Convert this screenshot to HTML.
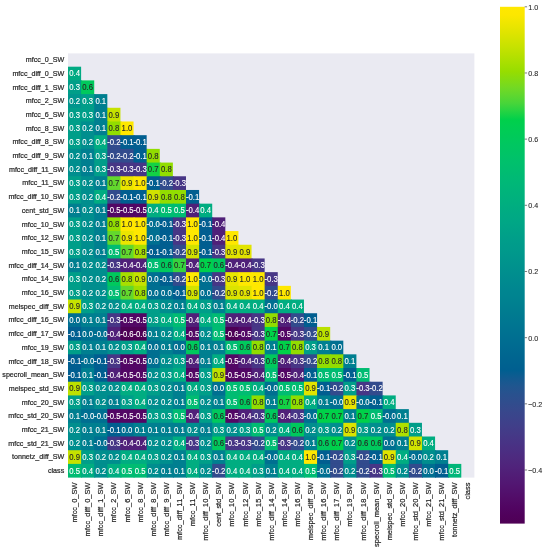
<!DOCTYPE html><html><head><meta charset="utf-8"><title>Correlation heatmap</title>
<style>html,body{margin:0;padding:0;background:#fff}svg{display:block}text{font-family:"Liberation Sans",sans-serif;font-size:7.15px}.a{text-anchor:middle;font-size:7.75px}.w{fill:#fff;stroke:#fff;stroke-width:.1px}.d{fill:#262626;stroke:#262626;stroke-width:.1px}.yl{text-anchor:end;fill:#262626;stroke:#262626;stroke-width:.2px}.xl{text-anchor:end;fill:#262626;stroke:#262626;stroke-width:.2px}.cl{fill:#262626;stroke:#262626;stroke-width:.08px}</style></head><body>
<svg width="545" height="550" viewBox="0 0 545 550">
<rect width="545" height="550" fill="#fff"/>
<rect x="68.00" y="53.40" width="406.40" height="424.20" fill="#eaeaf2"/>
<g shape-rendering="auto">
<rect x="68.00" y="66.70" width="13.11" height="14.70" fill="#00aa83"/>
<rect x="68.00" y="80.39" width="14.11" height="14.70" fill="#009e89"/>
<rect x="81.11" y="80.39" width="13.11" height="14.70" fill="#00c95d"/>
<rect x="68.00" y="94.09" width="14.11" height="14.70" fill="#00958d"/>
<rect x="81.11" y="94.09" width="14.11" height="14.70" fill="#009e89"/>
<rect x="94.22" y="94.09" width="13.11" height="14.70" fill="#007f90"/>
<rect x="68.00" y="107.79" width="14.11" height="14.70" fill="#009e89"/>
<rect x="81.11" y="107.79" width="14.11" height="14.70" fill="#009e89"/>
<rect x="94.22" y="107.79" width="14.11" height="14.70" fill="#007f90"/>
<rect x="107.33" y="107.79" width="13.11" height="14.70" fill="#c6e200"/>
<rect x="68.00" y="121.48" width="14.11" height="14.70" fill="#009e89"/>
<rect x="81.11" y="121.48" width="14.11" height="14.70" fill="#008e8e"/>
<rect x="94.22" y="121.48" width="14.11" height="14.70" fill="#007f90"/>
<rect x="107.33" y="121.48" width="14.11" height="14.70" fill="#92dd00"/>
<rect x="120.44" y="121.48" width="13.11" height="14.70" fill="#ffe800"/>
<rect x="68.00" y="135.18" width="14.11" height="14.70" fill="#009e89"/>
<rect x="81.11" y="135.18" width="14.11" height="14.70" fill="#008e8e"/>
<rect x="94.22" y="135.18" width="14.11" height="14.70" fill="#00ad81"/>
<rect x="107.33" y="135.18" width="14.11" height="14.70" fill="#324b8d"/>
<rect x="120.44" y="135.18" width="14.11" height="14.70" fill="#015e90"/>
<rect x="133.55" y="135.18" width="13.11" height="14.70" fill="#015e90"/>
<rect x="68.00" y="148.88" width="14.11" height="14.70" fill="#008e8e"/>
<rect x="81.11" y="148.88" width="14.11" height="14.70" fill="#007f90"/>
<rect x="94.22" y="148.88" width="14.11" height="14.70" fill="#009e89"/>
<rect x="107.33" y="148.88" width="14.11" height="14.70" fill="#324b8d"/>
<rect x="120.44" y="148.88" width="14.11" height="14.70" fill="#324b8d"/>
<rect x="133.55" y="148.88" width="14.11" height="14.70" fill="#015e90"/>
<rect x="146.66" y="148.88" width="13.11" height="14.70" fill="#92dd00"/>
<rect x="68.00" y="162.57" width="14.11" height="14.70" fill="#008e8e"/>
<rect x="81.11" y="162.57" width="14.11" height="14.70" fill="#007f90"/>
<rect x="94.22" y="162.57" width="14.11" height="14.70" fill="#009e89"/>
<rect x="107.33" y="162.57" width="14.11" height="14.70" fill="#473686"/>
<rect x="120.44" y="162.57" width="14.11" height="14.70" fill="#473686"/>
<rect x="133.55" y="162.57" width="14.11" height="14.70" fill="#473686"/>
<rect x="146.66" y="162.57" width="14.11" height="14.70" fill="#13d245"/>
<rect x="159.77" y="162.57" width="13.11" height="14.70" fill="#92dd00"/>
<rect x="68.00" y="176.27" width="14.11" height="14.70" fill="#009e89"/>
<rect x="81.11" y="176.27" width="14.11" height="14.70" fill="#008e8e"/>
<rect x="94.22" y="176.27" width="14.11" height="14.70" fill="#007f90"/>
<rect x="107.33" y="176.27" width="14.11" height="14.70" fill="#63d82d"/>
<rect x="120.44" y="176.27" width="14.11" height="14.70" fill="#ece500"/>
<rect x="133.55" y="176.27" width="14.11" height="14.70" fill="#ffe800"/>
<rect x="146.66" y="176.27" width="14.11" height="14.70" fill="#015e90"/>
<rect x="159.77" y="176.27" width="14.11" height="14.70" fill="#324b8d"/>
<rect x="172.88" y="176.27" width="13.11" height="14.70" fill="#473686"/>
<rect x="68.00" y="189.97" width="14.11" height="14.70" fill="#009e89"/>
<rect x="81.11" y="189.97" width="14.11" height="14.70" fill="#008e8e"/>
<rect x="94.22" y="189.97" width="14.11" height="14.70" fill="#00ad81"/>
<rect x="107.33" y="189.97" width="14.11" height="14.70" fill="#324b8d"/>
<rect x="120.44" y="189.97" width="14.11" height="14.70" fill="#015e90"/>
<rect x="133.55" y="189.97" width="14.11" height="14.70" fill="#015e90"/>
<rect x="146.66" y="189.97" width="14.11" height="14.70" fill="#d1e300"/>
<rect x="159.77" y="189.97" width="14.11" height="14.70" fill="#92dd00"/>
<rect x="172.88" y="189.97" width="14.11" height="14.70" fill="#92dd00"/>
<rect x="185.99" y="189.97" width="13.11" height="14.70" fill="#015e90"/>
<rect x="68.00" y="203.66" width="14.11" height="14.70" fill="#007f90"/>
<rect x="81.11" y="203.66" width="14.11" height="14.70" fill="#008e8e"/>
<rect x="94.22" y="203.66" width="14.11" height="14.70" fill="#007f90"/>
<rect x="107.33" y="203.66" width="14.11" height="14.70" fill="#520765"/>
<rect x="120.44" y="203.66" width="14.11" height="14.70" fill="#520765"/>
<rect x="133.55" y="203.66" width="14.11" height="14.70" fill="#520765"/>
<rect x="146.66" y="203.66" width="14.11" height="14.70" fill="#00ad81"/>
<rect x="159.77" y="203.66" width="14.11" height="14.70" fill="#00bc72"/>
<rect x="172.88" y="203.66" width="14.11" height="14.70" fill="#00bc72"/>
<rect x="185.99" y="203.66" width="14.11" height="14.70" fill="#502079"/>
<rect x="199.10" y="203.66" width="13.11" height="14.70" fill="#00ad81"/>
<rect x="68.00" y="217.36" width="14.11" height="14.70" fill="#009e89"/>
<rect x="81.11" y="217.36" width="14.11" height="14.70" fill="#008e8e"/>
<rect x="94.22" y="217.36" width="14.11" height="14.70" fill="#007f90"/>
<rect x="107.33" y="217.36" width="14.11" height="14.70" fill="#92dd00"/>
<rect x="120.44" y="217.36" width="14.11" height="14.70" fill="#ffe800"/>
<rect x="133.55" y="217.36" width="14.11" height="14.70" fill="#ffe800"/>
<rect x="146.66" y="217.36" width="14.11" height="14.70" fill="#006f91"/>
<rect x="159.77" y="217.36" width="14.11" height="14.70" fill="#015e90"/>
<rect x="172.88" y="217.36" width="14.11" height="14.70" fill="#473686"/>
<rect x="185.99" y="217.36" width="14.11" height="14.70" fill="#ffe800"/>
<rect x="199.10" y="217.36" width="14.11" height="14.70" fill="#015e90"/>
<rect x="212.21" y="217.36" width="13.11" height="14.70" fill="#502079"/>
<rect x="68.00" y="231.06" width="14.11" height="14.70" fill="#009e89"/>
<rect x="81.11" y="231.06" width="14.11" height="14.70" fill="#008e8e"/>
<rect x="94.22" y="231.06" width="14.11" height="14.70" fill="#007f90"/>
<rect x="107.33" y="231.06" width="14.11" height="14.70" fill="#63d82d"/>
<rect x="120.44" y="231.06" width="14.11" height="14.70" fill="#ece500"/>
<rect x="133.55" y="231.06" width="14.11" height="14.70" fill="#ffe800"/>
<rect x="146.66" y="231.06" width="14.11" height="14.70" fill="#006f91"/>
<rect x="159.77" y="231.06" width="14.11" height="14.70" fill="#015e90"/>
<rect x="172.88" y="231.06" width="14.11" height="14.70" fill="#473686"/>
<rect x="185.99" y="231.06" width="14.11" height="14.70" fill="#ffe800"/>
<rect x="199.10" y="231.06" width="14.11" height="14.70" fill="#015e90"/>
<rect x="212.21" y="231.06" width="14.11" height="14.70" fill="#502079"/>
<rect x="225.32" y="231.06" width="13.11" height="14.70" fill="#ffe800"/>
<rect x="68.00" y="244.75" width="14.11" height="14.70" fill="#009e89"/>
<rect x="81.11" y="244.75" width="14.11" height="14.70" fill="#008e8e"/>
<rect x="94.22" y="244.75" width="14.11" height="14.70" fill="#007f90"/>
<rect x="107.33" y="244.75" width="14.11" height="14.70" fill="#00bc72"/>
<rect x="120.44" y="244.75" width="14.11" height="14.70" fill="#63d82d"/>
<rect x="133.55" y="244.75" width="14.11" height="14.70" fill="#a7df00"/>
<rect x="146.66" y="244.75" width="14.11" height="14.70" fill="#015e90"/>
<rect x="159.77" y="244.75" width="14.11" height="14.70" fill="#015e90"/>
<rect x="172.88" y="244.75" width="14.11" height="14.70" fill="#324b8d"/>
<rect x="185.99" y="244.75" width="14.11" height="14.70" fill="#d1e300"/>
<rect x="199.10" y="244.75" width="14.11" height="14.70" fill="#015e90"/>
<rect x="212.21" y="244.75" width="14.11" height="14.70" fill="#473686"/>
<rect x="225.32" y="244.75" width="14.11" height="14.70" fill="#e2e400"/>
<rect x="238.43" y="244.75" width="13.11" height="14.70" fill="#e2e400"/>
<rect x="68.00" y="258.45" width="14.11" height="14.70" fill="#007f90"/>
<rect x="81.11" y="258.45" width="14.11" height="14.70" fill="#008e8e"/>
<rect x="94.22" y="258.45" width="14.11" height="14.70" fill="#008e8e"/>
<rect x="107.33" y="258.45" width="14.11" height="14.70" fill="#473686"/>
<rect x="120.44" y="258.45" width="14.11" height="14.70" fill="#502079"/>
<rect x="133.55" y="258.45" width="14.11" height="14.70" fill="#502079"/>
<rect x="146.66" y="258.45" width="14.11" height="14.70" fill="#00bc72"/>
<rect x="159.77" y="258.45" width="14.11" height="14.70" fill="#00c95d"/>
<rect x="172.88" y="258.45" width="14.11" height="14.70" fill="#37d43f"/>
<rect x="185.99" y="258.45" width="14.11" height="14.70" fill="#502079"/>
<rect x="199.10" y="258.45" width="14.11" height="14.70" fill="#00d04b"/>
<rect x="212.21" y="258.45" width="14.11" height="14.70" fill="#00c95d"/>
<rect x="225.32" y="258.45" width="14.11" height="14.70" fill="#502079"/>
<rect x="238.43" y="258.45" width="14.11" height="14.70" fill="#502079"/>
<rect x="251.54" y="258.45" width="13.11" height="14.70" fill="#473686"/>
<rect x="68.00" y="272.15" width="14.11" height="14.70" fill="#009e89"/>
<rect x="81.11" y="272.15" width="14.11" height="14.70" fill="#008e8e"/>
<rect x="94.22" y="272.15" width="14.11" height="14.70" fill="#008e8e"/>
<rect x="107.33" y="272.15" width="14.11" height="14.70" fill="#00c95d"/>
<rect x="120.44" y="272.15" width="14.11" height="14.70" fill="#a7df00"/>
<rect x="133.55" y="272.15" width="14.11" height="14.70" fill="#c6e200"/>
<rect x="146.66" y="272.15" width="14.11" height="14.70" fill="#006f91"/>
<rect x="159.77" y="272.15" width="14.11" height="14.70" fill="#015e90"/>
<rect x="172.88" y="272.15" width="14.11" height="14.70" fill="#324b8d"/>
<rect x="185.99" y="272.15" width="14.11" height="14.70" fill="#ffe800"/>
<rect x="199.10" y="272.15" width="14.11" height="14.70" fill="#006f91"/>
<rect x="212.21" y="272.15" width="14.11" height="14.70" fill="#473686"/>
<rect x="225.32" y="272.15" width="14.11" height="14.70" fill="#e9e500"/>
<rect x="238.43" y="272.15" width="14.11" height="14.70" fill="#ffe800"/>
<rect x="251.54" y="272.15" width="14.11" height="14.70" fill="#ffe800"/>
<rect x="264.65" y="272.15" width="13.11" height="14.70" fill="#473686"/>
<rect x="68.00" y="285.85" width="14.11" height="14.70" fill="#009e89"/>
<rect x="81.11" y="285.85" width="14.11" height="14.70" fill="#008e8e"/>
<rect x="94.22" y="285.85" width="14.11" height="14.70" fill="#008e8e"/>
<rect x="107.33" y="285.85" width="14.11" height="14.70" fill="#00bc72"/>
<rect x="120.44" y="285.85" width="14.11" height="14.70" fill="#63d82d"/>
<rect x="133.55" y="285.85" width="14.11" height="14.70" fill="#9fde00"/>
<rect x="146.66" y="285.85" width="14.11" height="14.70" fill="#006f91"/>
<rect x="159.77" y="285.85" width="14.11" height="14.70" fill="#006f91"/>
<rect x="172.88" y="285.85" width="14.11" height="14.70" fill="#015e90"/>
<rect x="185.99" y="285.85" width="14.11" height="14.70" fill="#d1e300"/>
<rect x="199.10" y="285.85" width="14.11" height="14.70" fill="#006f91"/>
<rect x="212.21" y="285.85" width="14.11" height="14.70" fill="#324b8d"/>
<rect x="225.32" y="285.85" width="14.11" height="14.70" fill="#dbe400"/>
<rect x="238.43" y="285.85" width="14.11" height="14.70" fill="#e2e400"/>
<rect x="251.54" y="285.85" width="14.11" height="14.70" fill="#ffe800"/>
<rect x="264.65" y="285.85" width="14.11" height="14.70" fill="#324b8d"/>
<rect x="277.75" y="285.85" width="13.11" height="14.70" fill="#ffe800"/>
<rect x="68.00" y="299.54" width="14.11" height="14.70" fill="#c6e200"/>
<rect x="81.11" y="299.54" width="14.11" height="14.70" fill="#009e89"/>
<rect x="94.22" y="299.54" width="14.11" height="14.70" fill="#008e8e"/>
<rect x="107.33" y="299.54" width="14.11" height="14.70" fill="#008e8e"/>
<rect x="120.44" y="299.54" width="14.11" height="14.70" fill="#00ad81"/>
<rect x="133.55" y="299.54" width="14.11" height="14.70" fill="#00ad81"/>
<rect x="146.66" y="299.54" width="14.11" height="14.70" fill="#009e89"/>
<rect x="159.77" y="299.54" width="14.11" height="14.70" fill="#008e8e"/>
<rect x="172.88" y="299.54" width="14.11" height="14.70" fill="#007f90"/>
<rect x="185.99" y="299.54" width="14.11" height="14.70" fill="#00ad81"/>
<rect x="199.10" y="299.54" width="14.11" height="14.70" fill="#009e89"/>
<rect x="212.21" y="299.54" width="14.11" height="14.70" fill="#007f90"/>
<rect x="225.32" y="299.54" width="14.11" height="14.70" fill="#00ad81"/>
<rect x="238.43" y="299.54" width="14.11" height="14.70" fill="#00ad81"/>
<rect x="251.54" y="299.54" width="14.11" height="14.70" fill="#00ad81"/>
<rect x="264.65" y="299.54" width="14.11" height="14.70" fill="#006f91"/>
<rect x="277.75" y="299.54" width="14.11" height="14.70" fill="#00ad81"/>
<rect x="290.86" y="299.54" width="13.11" height="14.70" fill="#00ad81"/>
<rect x="68.00" y="313.24" width="14.11" height="14.70" fill="#006f91"/>
<rect x="81.11" y="313.24" width="14.11" height="14.70" fill="#007f90"/>
<rect x="94.22" y="313.24" width="14.11" height="14.70" fill="#007f90"/>
<rect x="107.33" y="313.24" width="14.11" height="14.70" fill="#473686"/>
<rect x="120.44" y="313.24" width="14.11" height="14.70" fill="#520765"/>
<rect x="133.55" y="313.24" width="14.11" height="14.70" fill="#520765"/>
<rect x="146.66" y="313.24" width="14.11" height="14.70" fill="#009e89"/>
<rect x="159.77" y="313.24" width="14.11" height="14.70" fill="#00ad81"/>
<rect x="172.88" y="313.24" width="14.11" height="14.70" fill="#00bc72"/>
<rect x="185.99" y="313.24" width="14.11" height="14.70" fill="#502079"/>
<rect x="199.10" y="313.24" width="14.11" height="14.70" fill="#00ad81"/>
<rect x="212.21" y="313.24" width="14.11" height="14.70" fill="#00bc72"/>
<rect x="225.32" y="313.24" width="14.11" height="14.70" fill="#502079"/>
<rect x="238.43" y="313.24" width="14.11" height="14.70" fill="#502079"/>
<rect x="251.54" y="313.24" width="14.11" height="14.70" fill="#473686"/>
<rect x="264.65" y="313.24" width="14.11" height="14.70" fill="#92dd00"/>
<rect x="277.75" y="313.24" width="14.11" height="14.70" fill="#502079"/>
<rect x="290.86" y="313.24" width="14.11" height="14.70" fill="#324b8d"/>
<rect x="303.97" y="313.24" width="13.11" height="14.70" fill="#015e90"/>
<rect x="68.00" y="326.94" width="14.11" height="14.70" fill="#015e90"/>
<rect x="81.11" y="326.94" width="14.11" height="14.70" fill="#006f91"/>
<rect x="94.22" y="326.94" width="14.11" height="14.70" fill="#006f91"/>
<rect x="107.33" y="326.94" width="14.11" height="14.70" fill="#502079"/>
<rect x="120.44" y="326.94" width="14.11" height="14.70" fill="#4e0055"/>
<rect x="133.55" y="326.94" width="14.11" height="14.70" fill="#4e0055"/>
<rect x="146.66" y="326.94" width="14.11" height="14.70" fill="#007f90"/>
<rect x="159.77" y="326.94" width="14.11" height="14.70" fill="#008e8e"/>
<rect x="172.88" y="326.94" width="14.11" height="14.70" fill="#00ad81"/>
<rect x="185.99" y="326.94" width="14.11" height="14.70" fill="#520765"/>
<rect x="199.10" y="326.94" width="14.11" height="14.70" fill="#008e8e"/>
<rect x="212.21" y="326.94" width="14.11" height="14.70" fill="#00bc72"/>
<rect x="225.32" y="326.94" width="14.11" height="14.70" fill="#4e0055"/>
<rect x="238.43" y="326.94" width="14.11" height="14.70" fill="#520765"/>
<rect x="251.54" y="326.94" width="14.11" height="14.70" fill="#473686"/>
<rect x="264.65" y="326.94" width="14.11" height="14.70" fill="#00d149"/>
<rect x="277.75" y="326.94" width="14.11" height="14.70" fill="#520765"/>
<rect x="290.86" y="326.94" width="14.11" height="14.70" fill="#473686"/>
<rect x="303.97" y="326.94" width="14.11" height="14.70" fill="#324b8d"/>
<rect x="317.08" y="326.94" width="13.11" height="14.70" fill="#bbe100"/>
<rect x="68.00" y="340.63" width="14.11" height="14.70" fill="#009e89"/>
<rect x="81.11" y="340.63" width="14.11" height="14.70" fill="#007f90"/>
<rect x="94.22" y="340.63" width="14.11" height="14.70" fill="#007f90"/>
<rect x="107.33" y="340.63" width="14.11" height="14.70" fill="#008e8e"/>
<rect x="120.44" y="340.63" width="14.11" height="14.70" fill="#009e89"/>
<rect x="133.55" y="340.63" width="14.11" height="14.70" fill="#00ad81"/>
<rect x="146.66" y="340.63" width="14.11" height="14.70" fill="#006f91"/>
<rect x="159.77" y="340.63" width="14.11" height="14.70" fill="#007f90"/>
<rect x="172.88" y="340.63" width="14.11" height="14.70" fill="#006f91"/>
<rect x="185.99" y="340.63" width="14.11" height="14.70" fill="#00c95d"/>
<rect x="199.10" y="340.63" width="14.11" height="14.70" fill="#007f90"/>
<rect x="212.21" y="340.63" width="14.11" height="14.70" fill="#007f90"/>
<rect x="225.32" y="340.63" width="14.11" height="14.70" fill="#00bc72"/>
<rect x="238.43" y="340.63" width="14.11" height="14.70" fill="#00c95d"/>
<rect x="251.54" y="340.63" width="14.11" height="14.70" fill="#92dd00"/>
<rect x="264.65" y="340.63" width="14.11" height="14.70" fill="#007f90"/>
<rect x="277.75" y="340.63" width="14.11" height="14.70" fill="#00d149"/>
<rect x="290.86" y="340.63" width="14.11" height="14.70" fill="#92dd00"/>
<rect x="303.97" y="340.63" width="14.11" height="14.70" fill="#009e89"/>
<rect x="317.08" y="340.63" width="14.11" height="14.70" fill="#007f90"/>
<rect x="330.19" y="340.63" width="13.11" height="14.70" fill="#006f91"/>
<rect x="68.00" y="354.33" width="14.11" height="14.70" fill="#015e90"/>
<rect x="81.11" y="354.33" width="14.11" height="14.70" fill="#006f91"/>
<rect x="94.22" y="354.33" width="14.11" height="14.70" fill="#015e90"/>
<rect x="107.33" y="354.33" width="14.11" height="14.70" fill="#473686"/>
<rect x="120.44" y="354.33" width="14.11" height="14.70" fill="#520765"/>
<rect x="133.55" y="354.33" width="14.11" height="14.70" fill="#520765"/>
<rect x="146.66" y="354.33" width="14.11" height="14.70" fill="#006f91"/>
<rect x="159.77" y="354.33" width="14.11" height="14.70" fill="#008e8e"/>
<rect x="172.88" y="354.33" width="14.11" height="14.70" fill="#009e89"/>
<rect x="185.99" y="354.33" width="14.11" height="14.70" fill="#502079"/>
<rect x="199.10" y="354.33" width="14.11" height="14.70" fill="#007f90"/>
<rect x="212.21" y="354.33" width="14.11" height="14.70" fill="#00ad81"/>
<rect x="225.32" y="354.33" width="14.11" height="14.70" fill="#520765"/>
<rect x="238.43" y="354.33" width="14.11" height="14.70" fill="#502079"/>
<rect x="251.54" y="354.33" width="14.11" height="14.70" fill="#473686"/>
<rect x="264.65" y="354.33" width="14.11" height="14.70" fill="#00c95d"/>
<rect x="277.75" y="354.33" width="14.11" height="14.70" fill="#502079"/>
<rect x="290.86" y="354.33" width="14.11" height="14.70" fill="#473686"/>
<rect x="303.97" y="354.33" width="14.11" height="14.70" fill="#324b8d"/>
<rect x="317.08" y="354.33" width="14.11" height="14.70" fill="#92dd00"/>
<rect x="330.19" y="354.33" width="14.11" height="14.70" fill="#92dd00"/>
<rect x="343.30" y="354.33" width="13.11" height="14.70" fill="#007f90"/>
<rect x="68.00" y="368.03" width="14.11" height="14.70" fill="#015e90"/>
<rect x="81.11" y="368.03" width="14.11" height="14.70" fill="#007f90"/>
<rect x="94.22" y="368.03" width="14.11" height="14.70" fill="#015e90"/>
<rect x="107.33" y="368.03" width="14.11" height="14.70" fill="#502079"/>
<rect x="120.44" y="368.03" width="14.11" height="14.70" fill="#520765"/>
<rect x="133.55" y="368.03" width="14.11" height="14.70" fill="#520765"/>
<rect x="146.66" y="368.03" width="14.11" height="14.70" fill="#008e8e"/>
<rect x="159.77" y="368.03" width="14.11" height="14.70" fill="#009e89"/>
<rect x="172.88" y="368.03" width="14.11" height="14.70" fill="#00ad81"/>
<rect x="185.99" y="368.03" width="14.11" height="14.70" fill="#520765"/>
<rect x="199.10" y="368.03" width="14.11" height="14.70" fill="#009e89"/>
<rect x="212.21" y="368.03" width="14.11" height="14.70" fill="#bee100"/>
<rect x="225.32" y="368.03" width="14.11" height="14.70" fill="#520765"/>
<rect x="238.43" y="368.03" width="14.11" height="14.70" fill="#520765"/>
<rect x="251.54" y="368.03" width="14.11" height="14.70" fill="#502079"/>
<rect x="264.65" y="368.03" width="14.11" height="14.70" fill="#00bc72"/>
<rect x="277.75" y="368.03" width="14.11" height="14.70" fill="#520765"/>
<rect x="290.86" y="368.03" width="14.11" height="14.70" fill="#502079"/>
<rect x="303.97" y="368.03" width="14.11" height="14.70" fill="#015e90"/>
<rect x="317.08" y="368.03" width="14.11" height="14.70" fill="#00bc72"/>
<rect x="330.19" y="368.03" width="14.11" height="14.70" fill="#00bc72"/>
<rect x="343.30" y="368.03" width="14.11" height="14.70" fill="#015e90"/>
<rect x="356.41" y="368.03" width="13.11" height="14.70" fill="#00bc72"/>
<rect x="68.00" y="381.72" width="14.11" height="14.70" fill="#bee100"/>
<rect x="81.11" y="381.72" width="14.11" height="14.70" fill="#009e89"/>
<rect x="94.22" y="381.72" width="14.11" height="14.70" fill="#008e8e"/>
<rect x="107.33" y="381.72" width="14.11" height="14.70" fill="#008e8e"/>
<rect x="120.44" y="381.72" width="14.11" height="14.70" fill="#00ad81"/>
<rect x="133.55" y="381.72" width="14.11" height="14.70" fill="#00ad81"/>
<rect x="146.66" y="381.72" width="14.11" height="14.70" fill="#009e89"/>
<rect x="159.77" y="381.72" width="14.11" height="14.70" fill="#008e8e"/>
<rect x="172.88" y="381.72" width="14.11" height="14.70" fill="#007f90"/>
<rect x="185.99" y="381.72" width="14.11" height="14.70" fill="#00ad81"/>
<rect x="199.10" y="381.72" width="14.11" height="14.70" fill="#009e89"/>
<rect x="212.21" y="381.72" width="14.11" height="14.70" fill="#006f91"/>
<rect x="225.32" y="381.72" width="14.11" height="14.70" fill="#00bc72"/>
<rect x="238.43" y="381.72" width="14.11" height="14.70" fill="#00bc72"/>
<rect x="251.54" y="381.72" width="14.11" height="14.70" fill="#00ad81"/>
<rect x="264.65" y="381.72" width="14.11" height="14.70" fill="#006f91"/>
<rect x="277.75" y="381.72" width="14.11" height="14.70" fill="#00bc72"/>
<rect x="290.86" y="381.72" width="14.11" height="14.70" fill="#00bc72"/>
<rect x="303.97" y="381.72" width="14.11" height="14.70" fill="#e2e400"/>
<rect x="317.08" y="381.72" width="14.11" height="14.70" fill="#015e90"/>
<rect x="330.19" y="381.72" width="14.11" height="14.70" fill="#324b8d"/>
<rect x="343.30" y="381.72" width="14.11" height="14.70" fill="#009e89"/>
<rect x="356.41" y="381.72" width="14.11" height="14.70" fill="#473686"/>
<rect x="369.52" y="381.72" width="13.11" height="14.70" fill="#324b8d"/>
<rect x="68.00" y="395.42" width="14.11" height="14.70" fill="#009e89"/>
<rect x="81.11" y="395.42" width="14.11" height="14.70" fill="#007f90"/>
<rect x="94.22" y="395.42" width="14.11" height="14.70" fill="#008e8e"/>
<rect x="107.33" y="395.42" width="14.11" height="14.70" fill="#007f90"/>
<rect x="120.44" y="395.42" width="14.11" height="14.70" fill="#009e89"/>
<rect x="133.55" y="395.42" width="14.11" height="14.70" fill="#00ad81"/>
<rect x="146.66" y="395.42" width="14.11" height="14.70" fill="#008e8e"/>
<rect x="159.77" y="395.42" width="14.11" height="14.70" fill="#008e8e"/>
<rect x="172.88" y="395.42" width="14.11" height="14.70" fill="#007f90"/>
<rect x="185.99" y="395.42" width="14.11" height="14.70" fill="#00bc72"/>
<rect x="199.10" y="395.42" width="14.11" height="14.70" fill="#008e8e"/>
<rect x="212.21" y="395.42" width="14.11" height="14.70" fill="#007f90"/>
<rect x="225.32" y="395.42" width="14.11" height="14.70" fill="#00bc72"/>
<rect x="238.43" y="395.42" width="14.11" height="14.70" fill="#00c95d"/>
<rect x="251.54" y="395.42" width="14.11" height="14.70" fill="#92dd00"/>
<rect x="264.65" y="395.42" width="14.11" height="14.70" fill="#007f90"/>
<rect x="277.75" y="395.42" width="14.11" height="14.70" fill="#13d245"/>
<rect x="290.86" y="395.42" width="14.11" height="14.70" fill="#92dd00"/>
<rect x="303.97" y="395.42" width="14.11" height="14.70" fill="#00ad81"/>
<rect x="317.08" y="395.42" width="14.11" height="14.70" fill="#007f90"/>
<rect x="330.19" y="395.42" width="14.11" height="14.70" fill="#006f91"/>
<rect x="343.30" y="395.42" width="14.11" height="14.70" fill="#e9e500"/>
<rect x="356.41" y="395.42" width="14.11" height="14.70" fill="#006f91"/>
<rect x="369.52" y="395.42" width="14.11" height="14.70" fill="#015e90"/>
<rect x="382.63" y="395.42" width="13.11" height="14.70" fill="#00ad81"/>
<rect x="68.00" y="409.12" width="14.11" height="14.70" fill="#007f90"/>
<rect x="81.11" y="409.12" width="14.11" height="14.70" fill="#006f91"/>
<rect x="94.22" y="409.12" width="14.11" height="14.70" fill="#006f91"/>
<rect x="107.33" y="409.12" width="14.11" height="14.70" fill="#520765"/>
<rect x="120.44" y="409.12" width="14.11" height="14.70" fill="#520765"/>
<rect x="133.55" y="409.12" width="14.11" height="14.70" fill="#520765"/>
<rect x="146.66" y="409.12" width="14.11" height="14.70" fill="#009e89"/>
<rect x="159.77" y="409.12" width="14.11" height="14.70" fill="#009e89"/>
<rect x="172.88" y="409.12" width="14.11" height="14.70" fill="#00bc72"/>
<rect x="185.99" y="409.12" width="14.11" height="14.70" fill="#502079"/>
<rect x="199.10" y="409.12" width="14.11" height="14.70" fill="#009e89"/>
<rect x="212.21" y="409.12" width="14.11" height="14.70" fill="#00c95d"/>
<rect x="225.32" y="409.12" width="14.11" height="14.70" fill="#520765"/>
<rect x="238.43" y="409.12" width="14.11" height="14.70" fill="#502079"/>
<rect x="251.54" y="409.12" width="14.11" height="14.70" fill="#473686"/>
<rect x="264.65" y="409.12" width="14.11" height="14.70" fill="#00c95d"/>
<rect x="277.75" y="409.12" width="14.11" height="14.70" fill="#502079"/>
<rect x="290.86" y="409.12" width="14.11" height="14.70" fill="#473686"/>
<rect x="303.97" y="409.12" width="14.11" height="14.70" fill="#006f91"/>
<rect x="317.08" y="409.12" width="14.11" height="14.70" fill="#00d149"/>
<rect x="330.19" y="409.12" width="14.11" height="14.70" fill="#00d149"/>
<rect x="343.30" y="409.12" width="14.11" height="14.70" fill="#007f90"/>
<rect x="356.41" y="409.12" width="14.11" height="14.70" fill="#00d149"/>
<rect x="369.52" y="409.12" width="14.11" height="14.70" fill="#00bc72"/>
<rect x="382.63" y="409.12" width="14.11" height="14.70" fill="#006f91"/>
<rect x="395.74" y="409.12" width="13.11" height="14.70" fill="#007f90"/>
<rect x="68.00" y="422.81" width="14.11" height="14.70" fill="#008e8e"/>
<rect x="81.11" y="422.81" width="14.11" height="14.70" fill="#007f90"/>
<rect x="94.22" y="422.81" width="14.11" height="14.70" fill="#007f90"/>
<rect x="107.33" y="422.81" width="14.11" height="14.70" fill="#015e90"/>
<rect x="120.44" y="422.81" width="14.11" height="14.70" fill="#006f91"/>
<rect x="133.55" y="422.81" width="14.11" height="14.70" fill="#007f90"/>
<rect x="146.66" y="422.81" width="14.11" height="14.70" fill="#007f90"/>
<rect x="159.77" y="422.81" width="14.11" height="14.70" fill="#007f90"/>
<rect x="172.88" y="422.81" width="14.11" height="14.70" fill="#007f90"/>
<rect x="185.99" y="422.81" width="14.11" height="14.70" fill="#008e8e"/>
<rect x="199.10" y="422.81" width="14.11" height="14.70" fill="#007f90"/>
<rect x="212.21" y="422.81" width="14.11" height="14.70" fill="#009e89"/>
<rect x="225.32" y="422.81" width="14.11" height="14.70" fill="#008e8e"/>
<rect x="238.43" y="422.81" width="14.11" height="14.70" fill="#009e89"/>
<rect x="251.54" y="422.81" width="14.11" height="14.70" fill="#00bc72"/>
<rect x="264.65" y="422.81" width="14.11" height="14.70" fill="#008e8e"/>
<rect x="277.75" y="422.81" width="14.11" height="14.70" fill="#00ad81"/>
<rect x="290.86" y="422.81" width="14.11" height="14.70" fill="#00c95d"/>
<rect x="303.97" y="422.81" width="14.11" height="14.70" fill="#008e8e"/>
<rect x="317.08" y="422.81" width="14.11" height="14.70" fill="#009e89"/>
<rect x="330.19" y="422.81" width="14.11" height="14.70" fill="#008e8e"/>
<rect x="343.30" y="422.81" width="14.11" height="14.70" fill="#dbe400"/>
<rect x="356.41" y="422.81" width="14.11" height="14.70" fill="#009e89"/>
<rect x="369.52" y="422.81" width="14.11" height="14.70" fill="#008e8e"/>
<rect x="382.63" y="422.81" width="14.11" height="14.70" fill="#008e8e"/>
<rect x="395.74" y="422.81" width="14.11" height="14.70" fill="#afe000"/>
<rect x="408.85" y="422.81" width="13.11" height="14.70" fill="#009e89"/>
<rect x="68.00" y="436.51" width="14.11" height="14.70" fill="#008e8e"/>
<rect x="81.11" y="436.51" width="14.11" height="14.70" fill="#007f90"/>
<rect x="94.22" y="436.51" width="14.11" height="14.70" fill="#006f91"/>
<rect x="107.33" y="436.51" width="14.11" height="14.70" fill="#473686"/>
<rect x="120.44" y="436.51" width="14.11" height="14.70" fill="#502079"/>
<rect x="133.55" y="436.51" width="14.11" height="14.70" fill="#502079"/>
<rect x="146.66" y="436.51" width="14.11" height="14.70" fill="#008e8e"/>
<rect x="159.77" y="436.51" width="14.11" height="14.70" fill="#008e8e"/>
<rect x="172.88" y="436.51" width="14.11" height="14.70" fill="#00ad81"/>
<rect x="185.99" y="436.51" width="14.11" height="14.70" fill="#473686"/>
<rect x="199.10" y="436.51" width="14.11" height="14.70" fill="#008e8e"/>
<rect x="212.21" y="436.51" width="14.11" height="14.70" fill="#00c95d"/>
<rect x="225.32" y="436.51" width="14.11" height="14.70" fill="#473686"/>
<rect x="238.43" y="436.51" width="14.11" height="14.70" fill="#473686"/>
<rect x="251.54" y="436.51" width="14.11" height="14.70" fill="#324b8d"/>
<rect x="264.65" y="436.51" width="14.11" height="14.70" fill="#00bc72"/>
<rect x="277.75" y="436.51" width="14.11" height="14.70" fill="#473686"/>
<rect x="290.86" y="436.51" width="14.11" height="14.70" fill="#324b8d"/>
<rect x="303.97" y="436.51" width="14.11" height="14.70" fill="#007f90"/>
<rect x="317.08" y="436.51" width="14.11" height="14.70" fill="#00c95d"/>
<rect x="330.19" y="436.51" width="14.11" height="14.70" fill="#00d04b"/>
<rect x="343.30" y="436.51" width="14.11" height="14.70" fill="#008e8e"/>
<rect x="356.41" y="436.51" width="14.11" height="14.70" fill="#00c95d"/>
<rect x="369.52" y="436.51" width="14.11" height="14.70" fill="#00c95d"/>
<rect x="382.63" y="436.51" width="14.11" height="14.70" fill="#006f91"/>
<rect x="395.74" y="436.51" width="14.11" height="14.70" fill="#007f90"/>
<rect x="408.85" y="436.51" width="14.11" height="14.70" fill="#d1e300"/>
<rect x="421.96" y="436.51" width="13.11" height="14.70" fill="#00ad81"/>
<rect x="68.00" y="450.21" width="14.11" height="14.70" fill="#c6e200"/>
<rect x="81.11" y="450.21" width="14.11" height="14.70" fill="#009e89"/>
<rect x="94.22" y="450.21" width="14.11" height="14.70" fill="#008e8e"/>
<rect x="107.33" y="450.21" width="14.11" height="14.70" fill="#008e8e"/>
<rect x="120.44" y="450.21" width="14.11" height="14.70" fill="#00ad81"/>
<rect x="133.55" y="450.21" width="14.11" height="14.70" fill="#00ad81"/>
<rect x="146.66" y="450.21" width="14.11" height="14.70" fill="#009e89"/>
<rect x="159.77" y="450.21" width="14.11" height="14.70" fill="#008e8e"/>
<rect x="172.88" y="450.21" width="14.11" height="14.70" fill="#007f90"/>
<rect x="185.99" y="450.21" width="14.11" height="14.70" fill="#00ad81"/>
<rect x="199.10" y="450.21" width="14.11" height="14.70" fill="#009e89"/>
<rect x="212.21" y="450.21" width="14.11" height="14.70" fill="#007f90"/>
<rect x="225.32" y="450.21" width="14.11" height="14.70" fill="#00ad81"/>
<rect x="238.43" y="450.21" width="14.11" height="14.70" fill="#00ad81"/>
<rect x="251.54" y="450.21" width="14.11" height="14.70" fill="#00ad81"/>
<rect x="264.65" y="450.21" width="14.11" height="14.70" fill="#006f91"/>
<rect x="277.75" y="450.21" width="14.11" height="14.70" fill="#00ad81"/>
<rect x="290.86" y="450.21" width="14.11" height="14.70" fill="#00ad81"/>
<rect x="303.97" y="450.21" width="14.11" height="14.70" fill="#ffe800"/>
<rect x="317.08" y="450.21" width="14.11" height="14.70" fill="#015e90"/>
<rect x="330.19" y="450.21" width="14.11" height="14.70" fill="#324b8d"/>
<rect x="343.30" y="450.21" width="14.11" height="14.70" fill="#009e89"/>
<rect x="356.41" y="450.21" width="14.11" height="14.70" fill="#324b8d"/>
<rect x="369.52" y="450.21" width="14.11" height="14.70" fill="#015e90"/>
<rect x="382.63" y="450.21" width="14.11" height="14.70" fill="#e2e400"/>
<rect x="395.74" y="450.21" width="14.11" height="14.70" fill="#00ad81"/>
<rect x="408.85" y="450.21" width="14.11" height="14.70" fill="#006f91"/>
<rect x="421.96" y="450.21" width="14.11" height="14.70" fill="#008e8e"/>
<rect x="435.07" y="450.21" width="13.11" height="14.70" fill="#007f90"/>
<rect x="68.00" y="463.90" width="14.11" height="13.70" fill="#00bc72"/>
<rect x="81.11" y="463.90" width="14.11" height="13.70" fill="#00ad81"/>
<rect x="94.22" y="463.90" width="14.11" height="13.70" fill="#008e8e"/>
<rect x="107.33" y="463.90" width="14.11" height="13.70" fill="#00ad81"/>
<rect x="120.44" y="463.90" width="14.11" height="13.70" fill="#00bc72"/>
<rect x="133.55" y="463.90" width="14.11" height="13.70" fill="#00bc72"/>
<rect x="146.66" y="463.90" width="14.11" height="13.70" fill="#008e8e"/>
<rect x="159.77" y="463.90" width="14.11" height="13.70" fill="#007f90"/>
<rect x="172.88" y="463.90" width="14.11" height="13.70" fill="#007f90"/>
<rect x="185.99" y="463.90" width="14.11" height="13.70" fill="#00ad81"/>
<rect x="199.10" y="463.90" width="14.11" height="13.70" fill="#008e8e"/>
<rect x="212.21" y="463.90" width="14.11" height="13.70" fill="#324b8d"/>
<rect x="225.32" y="463.90" width="14.11" height="13.70" fill="#00ad81"/>
<rect x="238.43" y="463.90" width="14.11" height="13.70" fill="#00ad81"/>
<rect x="251.54" y="463.90" width="14.11" height="13.70" fill="#009e89"/>
<rect x="264.65" y="463.90" width="14.11" height="13.70" fill="#007f90"/>
<rect x="277.75" y="463.90" width="14.11" height="13.70" fill="#00ad81"/>
<rect x="290.86" y="463.90" width="14.11" height="13.70" fill="#00ad81"/>
<rect x="303.97" y="463.90" width="14.11" height="13.70" fill="#00bc72"/>
<rect x="317.08" y="463.90" width="14.11" height="13.70" fill="#006f91"/>
<rect x="330.19" y="463.90" width="14.11" height="13.70" fill="#324b8d"/>
<rect x="343.30" y="463.90" width="14.11" height="13.70" fill="#008e8e"/>
<rect x="356.41" y="463.90" width="14.11" height="13.70" fill="#324b8d"/>
<rect x="369.52" y="463.90" width="14.11" height="13.70" fill="#473686"/>
<rect x="382.63" y="463.90" width="14.11" height="13.70" fill="#00bc72"/>
<rect x="395.74" y="463.90" width="14.11" height="13.70" fill="#008e8e"/>
<rect x="408.85" y="463.90" width="14.11" height="13.70" fill="#324b8d"/>
<rect x="421.96" y="463.90" width="14.11" height="13.70" fill="#006f91"/>
<rect x="435.07" y="463.90" width="14.11" height="13.70" fill="#015e90"/>
<rect x="448.18" y="463.90" width="13.11" height="13.70" fill="#00b679"/>
</g>
<text class="a w" transform="translate(74.55,76.45) scale(1,1.1)">0.4</text>
<text class="a w" transform="translate(74.55,90.14) scale(1,1.1)">0.3</text>
<text class="a d" transform="translate(87.66,90.14) scale(1,1.1)">0.6</text>
<text class="a w" transform="translate(74.55,103.84) scale(1,1.1)">0.2</text>
<text class="a w" transform="translate(87.66,103.84) scale(1,1.1)">0.3</text>
<text class="a w" transform="translate(100.77,103.84) scale(1,1.1)">0.1</text>
<text class="a w" transform="translate(74.55,117.54) scale(1,1.1)">0.3</text>
<text class="a w" transform="translate(87.66,117.54) scale(1,1.1)">0.3</text>
<text class="a w" transform="translate(100.77,117.54) scale(1,1.1)">0.1</text>
<text class="a d" transform="translate(113.88,117.54) scale(1,1.1)">0.9</text>
<text class="a w" transform="translate(74.55,131.23) scale(1,1.1)">0.3</text>
<text class="a w" transform="translate(87.66,131.23) scale(1,1.1)">0.2</text>
<text class="a w" transform="translate(100.77,131.23) scale(1,1.1)">0.1</text>
<text class="a d" transform="translate(113.88,131.23) scale(1,1.1)">0.8</text>
<text class="a d" transform="translate(126.99,131.23) scale(1,1.1)">1.0</text>
<text class="a w" transform="translate(74.55,144.93) scale(1,1.1)">0.3</text>
<text class="a w" transform="translate(87.66,144.93) scale(1,1.1)">0.2</text>
<text class="a w" transform="translate(100.77,144.93) scale(1,1.1)">0.4</text>
<text class="a w" transform="translate(113.88,144.93) scale(1,1.1)">-0.2</text>
<text class="a w" transform="translate(126.99,144.93) scale(1,1.1)">-0.1</text>
<text class="a w" transform="translate(140.10,144.93) scale(1,1.1)">-0.1</text>
<text class="a w" transform="translate(74.55,158.63) scale(1,1.1)">0.2</text>
<text class="a w" transform="translate(87.66,158.63) scale(1,1.1)">0.1</text>
<text class="a w" transform="translate(100.77,158.63) scale(1,1.1)">0.3</text>
<text class="a w" transform="translate(113.88,158.63) scale(1,1.1)">-0.2</text>
<text class="a w" transform="translate(126.99,158.63) scale(1,1.1)">-0.2</text>
<text class="a w" transform="translate(140.10,158.63) scale(1,1.1)">-0.1</text>
<text class="a d" transform="translate(153.21,158.63) scale(1,1.1)">0.8</text>
<text class="a w" transform="translate(74.55,172.32) scale(1,1.1)">0.2</text>
<text class="a w" transform="translate(87.66,172.32) scale(1,1.1)">0.1</text>
<text class="a w" transform="translate(100.77,172.32) scale(1,1.1)">0.3</text>
<text class="a w" transform="translate(113.88,172.32) scale(1,1.1)">-0.3</text>
<text class="a w" transform="translate(126.99,172.32) scale(1,1.1)">-0.3</text>
<text class="a w" transform="translate(140.10,172.32) scale(1,1.1)">-0.3</text>
<text class="a d" transform="translate(153.21,172.32) scale(1,1.1)">0.7</text>
<text class="a d" transform="translate(166.32,172.32) scale(1,1.1)">0.8</text>
<text class="a w" transform="translate(74.55,186.02) scale(1,1.1)">0.3</text>
<text class="a w" transform="translate(87.66,186.02) scale(1,1.1)">0.2</text>
<text class="a w" transform="translate(100.77,186.02) scale(1,1.1)">0.1</text>
<text class="a d" transform="translate(113.88,186.02) scale(1,1.1)">0.7</text>
<text class="a d" transform="translate(126.99,186.02) scale(1,1.1)">0.9</text>
<text class="a d" transform="translate(140.10,186.02) scale(1,1.1)">1.0</text>
<text class="a w" transform="translate(153.21,186.02) scale(1,1.1)">-0.1</text>
<text class="a w" transform="translate(166.32,186.02) scale(1,1.1)">-0.2</text>
<text class="a w" transform="translate(179.43,186.02) scale(1,1.1)">-0.3</text>
<text class="a w" transform="translate(74.55,199.72) scale(1,1.1)">0.3</text>
<text class="a w" transform="translate(87.66,199.72) scale(1,1.1)">0.2</text>
<text class="a w" transform="translate(100.77,199.72) scale(1,1.1)">0.4</text>
<text class="a w" transform="translate(113.88,199.72) scale(1,1.1)">-0.2</text>
<text class="a w" transform="translate(126.99,199.72) scale(1,1.1)">-0.1</text>
<text class="a w" transform="translate(140.10,199.72) scale(1,1.1)">-0.1</text>
<text class="a d" transform="translate(153.21,199.72) scale(1,1.1)">0.9</text>
<text class="a d" transform="translate(166.32,199.72) scale(1,1.1)">0.8</text>
<text class="a d" transform="translate(179.43,199.72) scale(1,1.1)">0.8</text>
<text class="a w" transform="translate(192.54,199.72) scale(1,1.1)">-0.1</text>
<text class="a w" transform="translate(74.55,213.41) scale(1,1.1)">0.1</text>
<text class="a w" transform="translate(87.66,213.41) scale(1,1.1)">0.2</text>
<text class="a w" transform="translate(100.77,213.41) scale(1,1.1)">0.1</text>
<text class="a w" transform="translate(113.88,213.41) scale(1,1.1)">-0.5</text>
<text class="a w" transform="translate(126.99,213.41) scale(1,1.1)">-0.5</text>
<text class="a w" transform="translate(140.10,213.41) scale(1,1.1)">-0.5</text>
<text class="a w" transform="translate(153.21,213.41) scale(1,1.1)">0.4</text>
<text class="a w" transform="translate(166.32,213.41) scale(1,1.1)">0.5</text>
<text class="a w" transform="translate(179.43,213.41) scale(1,1.1)">0.5</text>
<text class="a w" transform="translate(192.54,213.41) scale(1,1.1)">-0.4</text>
<text class="a w" transform="translate(205.65,213.41) scale(1,1.1)">0.4</text>
<text class="a w" transform="translate(74.55,227.11) scale(1,1.1)">0.3</text>
<text class="a w" transform="translate(87.66,227.11) scale(1,1.1)">0.2</text>
<text class="a w" transform="translate(100.77,227.11) scale(1,1.1)">0.1</text>
<text class="a d" transform="translate(113.88,227.11) scale(1,1.1)">0.8</text>
<text class="a d" transform="translate(126.99,227.11) scale(1,1.1)">1.0</text>
<text class="a d" transform="translate(140.10,227.11) scale(1,1.1)">1.0</text>
<text class="a w" transform="translate(153.21,227.11) scale(1,1.1)">-0.0</text>
<text class="a w" transform="translate(166.32,227.11) scale(1,1.1)">-0.1</text>
<text class="a w" transform="translate(179.43,227.11) scale(1,1.1)">-0.3</text>
<text class="a d" transform="translate(192.54,227.11) scale(1,1.1)">1.0</text>
<text class="a w" transform="translate(205.65,227.11) scale(1,1.1)">-0.1</text>
<text class="a w" transform="translate(218.76,227.11) scale(1,1.1)">-0.4</text>
<text class="a w" transform="translate(74.55,240.81) scale(1,1.1)">0.3</text>
<text class="a w" transform="translate(87.66,240.81) scale(1,1.1)">0.2</text>
<text class="a w" transform="translate(100.77,240.81) scale(1,1.1)">0.1</text>
<text class="a d" transform="translate(113.88,240.81) scale(1,1.1)">0.7</text>
<text class="a d" transform="translate(126.99,240.81) scale(1,1.1)">0.9</text>
<text class="a d" transform="translate(140.10,240.81) scale(1,1.1)">1.0</text>
<text class="a w" transform="translate(153.21,240.81) scale(1,1.1)">-0.0</text>
<text class="a w" transform="translate(166.32,240.81) scale(1,1.1)">-0.1</text>
<text class="a w" transform="translate(179.43,240.81) scale(1,1.1)">-0.3</text>
<text class="a d" transform="translate(192.54,240.81) scale(1,1.1)">1.0</text>
<text class="a w" transform="translate(205.65,240.81) scale(1,1.1)">-0.1</text>
<text class="a w" transform="translate(218.76,240.81) scale(1,1.1)">-0.4</text>
<text class="a d" transform="translate(231.87,240.81) scale(1,1.1)">1.0</text>
<text class="a w" transform="translate(74.55,254.51) scale(1,1.1)">0.3</text>
<text class="a w" transform="translate(87.66,254.51) scale(1,1.1)">0.2</text>
<text class="a w" transform="translate(100.77,254.51) scale(1,1.1)">0.1</text>
<text class="a w" transform="translate(113.88,254.51) scale(1,1.1)">0.5</text>
<text class="a d" transform="translate(126.99,254.51) scale(1,1.1)">0.7</text>
<text class="a d" transform="translate(140.10,254.51) scale(1,1.1)">0.8</text>
<text class="a w" transform="translate(153.21,254.51) scale(1,1.1)">-0.1</text>
<text class="a w" transform="translate(166.32,254.51) scale(1,1.1)">-0.1</text>
<text class="a w" transform="translate(179.43,254.51) scale(1,1.1)">-0.2</text>
<text class="a d" transform="translate(192.54,254.51) scale(1,1.1)">0.9</text>
<text class="a w" transform="translate(205.65,254.51) scale(1,1.1)">-0.1</text>
<text class="a w" transform="translate(218.76,254.51) scale(1,1.1)">-0.3</text>
<text class="a d" transform="translate(231.87,254.51) scale(1,1.1)">0.9</text>
<text class="a d" transform="translate(244.98,254.51) scale(1,1.1)">0.9</text>
<text class="a w" transform="translate(74.55,268.20) scale(1,1.1)">0.1</text>
<text class="a w" transform="translate(87.66,268.20) scale(1,1.1)">0.2</text>
<text class="a w" transform="translate(100.77,268.20) scale(1,1.1)">0.2</text>
<text class="a w" transform="translate(113.88,268.20) scale(1,1.1)">-0.3</text>
<text class="a w" transform="translate(126.99,268.20) scale(1,1.1)">-0.4</text>
<text class="a w" transform="translate(140.10,268.20) scale(1,1.1)">-0.4</text>
<text class="a w" transform="translate(153.21,268.20) scale(1,1.1)">0.5</text>
<text class="a d" transform="translate(166.32,268.20) scale(1,1.1)">0.6</text>
<text class="a d" transform="translate(179.43,268.20) scale(1,1.1)">0.7</text>
<text class="a w" transform="translate(192.54,268.20) scale(1,1.1)">-0.4</text>
<text class="a d" transform="translate(205.65,268.20) scale(1,1.1)">0.7</text>
<text class="a d" transform="translate(218.76,268.20) scale(1,1.1)">0.6</text>
<text class="a w" transform="translate(231.87,268.20) scale(1,1.1)">-0.4</text>
<text class="a w" transform="translate(244.98,268.20) scale(1,1.1)">-0.4</text>
<text class="a w" transform="translate(258.09,268.20) scale(1,1.1)">-0.3</text>
<text class="a w" transform="translate(74.55,281.90) scale(1,1.1)">0.3</text>
<text class="a w" transform="translate(87.66,281.90) scale(1,1.1)">0.2</text>
<text class="a w" transform="translate(100.77,281.90) scale(1,1.1)">0.2</text>
<text class="a d" transform="translate(113.88,281.90) scale(1,1.1)">0.6</text>
<text class="a d" transform="translate(126.99,281.90) scale(1,1.1)">0.8</text>
<text class="a d" transform="translate(140.10,281.90) scale(1,1.1)">0.9</text>
<text class="a w" transform="translate(153.21,281.90) scale(1,1.1)">0.0</text>
<text class="a w" transform="translate(166.32,281.90) scale(1,1.1)">-0.1</text>
<text class="a w" transform="translate(179.43,281.90) scale(1,1.1)">-0.2</text>
<text class="a d" transform="translate(192.54,281.90) scale(1,1.1)">1.0</text>
<text class="a w" transform="translate(205.65,281.90) scale(1,1.1)">-0.0</text>
<text class="a w" transform="translate(218.76,281.90) scale(1,1.1)">-0.3</text>
<text class="a d" transform="translate(231.87,281.90) scale(1,1.1)">0.9</text>
<text class="a d" transform="translate(244.98,281.90) scale(1,1.1)">1.0</text>
<text class="a d" transform="translate(258.09,281.90) scale(1,1.1)">1.0</text>
<text class="a w" transform="translate(271.20,281.90) scale(1,1.1)">-0.3</text>
<text class="a w" transform="translate(74.55,295.60) scale(1,1.1)">0.3</text>
<text class="a w" transform="translate(87.66,295.60) scale(1,1.1)">0.2</text>
<text class="a w" transform="translate(100.77,295.60) scale(1,1.1)">0.2</text>
<text class="a w" transform="translate(113.88,295.60) scale(1,1.1)">0.5</text>
<text class="a d" transform="translate(126.99,295.60) scale(1,1.1)">0.7</text>
<text class="a d" transform="translate(140.10,295.60) scale(1,1.1)">0.8</text>
<text class="a w" transform="translate(153.21,295.60) scale(1,1.1)">0.0</text>
<text class="a w" transform="translate(166.32,295.60) scale(1,1.1)">0.0</text>
<text class="a w" transform="translate(179.43,295.60) scale(1,1.1)">-0.1</text>
<text class="a d" transform="translate(192.54,295.60) scale(1,1.1)">0.9</text>
<text class="a w" transform="translate(205.65,295.60) scale(1,1.1)">0.0</text>
<text class="a w" transform="translate(218.76,295.60) scale(1,1.1)">-0.2</text>
<text class="a d" transform="translate(231.87,295.60) scale(1,1.1)">0.9</text>
<text class="a d" transform="translate(244.98,295.60) scale(1,1.1)">0.9</text>
<text class="a d" transform="translate(258.09,295.60) scale(1,1.1)">1.0</text>
<text class="a w" transform="translate(271.20,295.60) scale(1,1.1)">-0.2</text>
<text class="a d" transform="translate(284.31,295.60) scale(1,1.1)">1.0</text>
<text class="a d" transform="translate(74.55,309.29) scale(1,1.1)">0.9</text>
<text class="a w" transform="translate(87.66,309.29) scale(1,1.1)">0.3</text>
<text class="a w" transform="translate(100.77,309.29) scale(1,1.1)">0.2</text>
<text class="a w" transform="translate(113.88,309.29) scale(1,1.1)">0.2</text>
<text class="a w" transform="translate(126.99,309.29) scale(1,1.1)">0.4</text>
<text class="a w" transform="translate(140.10,309.29) scale(1,1.1)">0.4</text>
<text class="a w" transform="translate(153.21,309.29) scale(1,1.1)">0.3</text>
<text class="a w" transform="translate(166.32,309.29) scale(1,1.1)">0.2</text>
<text class="a w" transform="translate(179.43,309.29) scale(1,1.1)">0.1</text>
<text class="a w" transform="translate(192.54,309.29) scale(1,1.1)">0.4</text>
<text class="a w" transform="translate(205.65,309.29) scale(1,1.1)">0.3</text>
<text class="a w" transform="translate(218.76,309.29) scale(1,1.1)">0.1</text>
<text class="a w" transform="translate(231.87,309.29) scale(1,1.1)">0.4</text>
<text class="a w" transform="translate(244.98,309.29) scale(1,1.1)">0.4</text>
<text class="a w" transform="translate(258.09,309.29) scale(1,1.1)">0.4</text>
<text class="a w" transform="translate(271.20,309.29) scale(1,1.1)">-0.0</text>
<text class="a w" transform="translate(284.31,309.29) scale(1,1.1)">0.4</text>
<text class="a w" transform="translate(297.42,309.29) scale(1,1.1)">0.4</text>
<text class="a w" transform="translate(74.55,322.99) scale(1,1.1)">0.0</text>
<text class="a w" transform="translate(87.66,322.99) scale(1,1.1)">0.1</text>
<text class="a w" transform="translate(100.77,322.99) scale(1,1.1)">0.1</text>
<text class="a w" transform="translate(113.88,322.99) scale(1,1.1)">-0.3</text>
<text class="a w" transform="translate(126.99,322.99) scale(1,1.1)">-0.5</text>
<text class="a w" transform="translate(140.10,322.99) scale(1,1.1)">-0.5</text>
<text class="a w" transform="translate(153.21,322.99) scale(1,1.1)">0.3</text>
<text class="a w" transform="translate(166.32,322.99) scale(1,1.1)">0.4</text>
<text class="a w" transform="translate(179.43,322.99) scale(1,1.1)">0.5</text>
<text class="a w" transform="translate(192.54,322.99) scale(1,1.1)">-0.4</text>
<text class="a w" transform="translate(205.65,322.99) scale(1,1.1)">0.4</text>
<text class="a w" transform="translate(218.76,322.99) scale(1,1.1)">0.5</text>
<text class="a w" transform="translate(231.87,322.99) scale(1,1.1)">-0.4</text>
<text class="a w" transform="translate(244.98,322.99) scale(1,1.1)">-0.4</text>
<text class="a w" transform="translate(258.09,322.99) scale(1,1.1)">-0.3</text>
<text class="a d" transform="translate(271.20,322.99) scale(1,1.1)">0.8</text>
<text class="a w" transform="translate(284.31,322.99) scale(1,1.1)">-0.4</text>
<text class="a w" transform="translate(297.42,322.99) scale(1,1.1)">-0.2</text>
<text class="a w" transform="translate(310.53,322.99) scale(1,1.1)">-0.1</text>
<text class="a w" transform="translate(74.55,336.69) scale(1,1.1)">-0.1</text>
<text class="a w" transform="translate(87.66,336.69) scale(1,1.1)">0.0</text>
<text class="a w" transform="translate(100.77,336.69) scale(1,1.1)">-0.0</text>
<text class="a w" transform="translate(113.88,336.69) scale(1,1.1)">-0.4</text>
<text class="a w" transform="translate(126.99,336.69) scale(1,1.1)">-0.6</text>
<text class="a w" transform="translate(140.10,336.69) scale(1,1.1)">-0.6</text>
<text class="a w" transform="translate(153.21,336.69) scale(1,1.1)">0.1</text>
<text class="a w" transform="translate(166.32,336.69) scale(1,1.1)">0.2</text>
<text class="a w" transform="translate(179.43,336.69) scale(1,1.1)">0.4</text>
<text class="a w" transform="translate(192.54,336.69) scale(1,1.1)">-0.5</text>
<text class="a w" transform="translate(205.65,336.69) scale(1,1.1)">0.2</text>
<text class="a w" transform="translate(218.76,336.69) scale(1,1.1)">0.5</text>
<text class="a w" transform="translate(231.87,336.69) scale(1,1.1)">-0.6</text>
<text class="a w" transform="translate(244.98,336.69) scale(1,1.1)">-0.5</text>
<text class="a w" transform="translate(258.09,336.69) scale(1,1.1)">-0.3</text>
<text class="a d" transform="translate(271.20,336.69) scale(1,1.1)">0.7</text>
<text class="a w" transform="translate(284.31,336.69) scale(1,1.1)">-0.5</text>
<text class="a w" transform="translate(297.42,336.69) scale(1,1.1)">-0.3</text>
<text class="a w" transform="translate(310.53,336.69) scale(1,1.1)">-0.2</text>
<text class="a d" transform="translate(323.64,336.69) scale(1,1.1)">0.9</text>
<text class="a w" transform="translate(74.55,350.38) scale(1,1.1)">0.3</text>
<text class="a w" transform="translate(87.66,350.38) scale(1,1.1)">0.1</text>
<text class="a w" transform="translate(100.77,350.38) scale(1,1.1)">0.1</text>
<text class="a w" transform="translate(113.88,350.38) scale(1,1.1)">0.2</text>
<text class="a w" transform="translate(126.99,350.38) scale(1,1.1)">0.3</text>
<text class="a w" transform="translate(140.10,350.38) scale(1,1.1)">0.4</text>
<text class="a w" transform="translate(153.21,350.38) scale(1,1.1)">0.0</text>
<text class="a w" transform="translate(166.32,350.38) scale(1,1.1)">0.1</text>
<text class="a w" transform="translate(179.43,350.38) scale(1,1.1)">0.0</text>
<text class="a d" transform="translate(192.54,350.38) scale(1,1.1)">0.6</text>
<text class="a w" transform="translate(205.65,350.38) scale(1,1.1)">0.1</text>
<text class="a w" transform="translate(218.76,350.38) scale(1,1.1)">0.1</text>
<text class="a w" transform="translate(231.87,350.38) scale(1,1.1)">0.5</text>
<text class="a d" transform="translate(244.98,350.38) scale(1,1.1)">0.6</text>
<text class="a d" transform="translate(258.09,350.38) scale(1,1.1)">0.8</text>
<text class="a w" transform="translate(271.20,350.38) scale(1,1.1)">0.1</text>
<text class="a d" transform="translate(284.31,350.38) scale(1,1.1)">0.7</text>
<text class="a d" transform="translate(297.42,350.38) scale(1,1.1)">0.8</text>
<text class="a w" transform="translate(310.53,350.38) scale(1,1.1)">0.3</text>
<text class="a w" transform="translate(323.64,350.38) scale(1,1.1)">0.1</text>
<text class="a w" transform="translate(336.75,350.38) scale(1,1.1)">0.0</text>
<text class="a w" transform="translate(74.55,364.08) scale(1,1.1)">-0.1</text>
<text class="a w" transform="translate(87.66,364.08) scale(1,1.1)">-0.0</text>
<text class="a w" transform="translate(100.77,364.08) scale(1,1.1)">-0.1</text>
<text class="a w" transform="translate(113.88,364.08) scale(1,1.1)">-0.3</text>
<text class="a w" transform="translate(126.99,364.08) scale(1,1.1)">-0.5</text>
<text class="a w" transform="translate(140.10,364.08) scale(1,1.1)">-0.5</text>
<text class="a w" transform="translate(153.21,364.08) scale(1,1.1)">0.0</text>
<text class="a w" transform="translate(166.32,364.08) scale(1,1.1)">0.2</text>
<text class="a w" transform="translate(179.43,364.08) scale(1,1.1)">0.3</text>
<text class="a w" transform="translate(192.54,364.08) scale(1,1.1)">-0.4</text>
<text class="a w" transform="translate(205.65,364.08) scale(1,1.1)">0.1</text>
<text class="a w" transform="translate(218.76,364.08) scale(1,1.1)">0.4</text>
<text class="a w" transform="translate(231.87,364.08) scale(1,1.1)">-0.5</text>
<text class="a w" transform="translate(244.98,364.08) scale(1,1.1)">-0.4</text>
<text class="a w" transform="translate(258.09,364.08) scale(1,1.1)">-0.3</text>
<text class="a d" transform="translate(271.20,364.08) scale(1,1.1)">0.6</text>
<text class="a w" transform="translate(284.31,364.08) scale(1,1.1)">-0.4</text>
<text class="a w" transform="translate(297.42,364.08) scale(1,1.1)">-0.3</text>
<text class="a w" transform="translate(310.53,364.08) scale(1,1.1)">-0.2</text>
<text class="a d" transform="translate(323.64,364.08) scale(1,1.1)">0.8</text>
<text class="a d" transform="translate(336.75,364.08) scale(1,1.1)">0.8</text>
<text class="a w" transform="translate(349.86,364.08) scale(1,1.1)">0.1</text>
<text class="a w" transform="translate(74.55,377.78) scale(1,1.1)">-0.1</text>
<text class="a w" transform="translate(87.66,377.78) scale(1,1.1)">0.1</text>
<text class="a w" transform="translate(100.77,377.78) scale(1,1.1)">-0.1</text>
<text class="a w" transform="translate(113.88,377.78) scale(1,1.1)">-0.4</text>
<text class="a w" transform="translate(126.99,377.78) scale(1,1.1)">-0.5</text>
<text class="a w" transform="translate(140.10,377.78) scale(1,1.1)">-0.5</text>
<text class="a w" transform="translate(153.21,377.78) scale(1,1.1)">0.2</text>
<text class="a w" transform="translate(166.32,377.78) scale(1,1.1)">0.3</text>
<text class="a w" transform="translate(179.43,377.78) scale(1,1.1)">0.4</text>
<text class="a w" transform="translate(192.54,377.78) scale(1,1.1)">-0.5</text>
<text class="a w" transform="translate(205.65,377.78) scale(1,1.1)">0.3</text>
<text class="a d" transform="translate(218.76,377.78) scale(1,1.1)">0.9</text>
<text class="a w" transform="translate(231.87,377.78) scale(1,1.1)">-0.5</text>
<text class="a w" transform="translate(244.98,377.78) scale(1,1.1)">-0.5</text>
<text class="a w" transform="translate(258.09,377.78) scale(1,1.1)">-0.4</text>
<text class="a w" transform="translate(271.20,377.78) scale(1,1.1)">0.5</text>
<text class="a w" transform="translate(284.31,377.78) scale(1,1.1)">-0.5</text>
<text class="a w" transform="translate(297.42,377.78) scale(1,1.1)">-0.4</text>
<text class="a w" transform="translate(310.53,377.78) scale(1,1.1)">-0.1</text>
<text class="a w" transform="translate(323.64,377.78) scale(1,1.1)">0.5</text>
<text class="a w" transform="translate(336.75,377.78) scale(1,1.1)">0.5</text>
<text class="a w" transform="translate(349.86,377.78) scale(1,1.1)">-0.1</text>
<text class="a w" transform="translate(362.97,377.78) scale(1,1.1)">0.5</text>
<text class="a d" transform="translate(74.55,391.47) scale(1,1.1)">0.9</text>
<text class="a w" transform="translate(87.66,391.47) scale(1,1.1)">0.3</text>
<text class="a w" transform="translate(100.77,391.47) scale(1,1.1)">0.2</text>
<text class="a w" transform="translate(113.88,391.47) scale(1,1.1)">0.2</text>
<text class="a w" transform="translate(126.99,391.47) scale(1,1.1)">0.4</text>
<text class="a w" transform="translate(140.10,391.47) scale(1,1.1)">0.4</text>
<text class="a w" transform="translate(153.21,391.47) scale(1,1.1)">0.3</text>
<text class="a w" transform="translate(166.32,391.47) scale(1,1.1)">0.2</text>
<text class="a w" transform="translate(179.43,391.47) scale(1,1.1)">0.1</text>
<text class="a w" transform="translate(192.54,391.47) scale(1,1.1)">0.4</text>
<text class="a w" transform="translate(205.65,391.47) scale(1,1.1)">0.3</text>
<text class="a w" transform="translate(218.76,391.47) scale(1,1.1)">0.0</text>
<text class="a w" transform="translate(231.87,391.47) scale(1,1.1)">0.5</text>
<text class="a w" transform="translate(244.98,391.47) scale(1,1.1)">0.5</text>
<text class="a w" transform="translate(258.09,391.47) scale(1,1.1)">0.4</text>
<text class="a w" transform="translate(271.20,391.47) scale(1,1.1)">-0.0</text>
<text class="a w" transform="translate(284.31,391.47) scale(1,1.1)">0.5</text>
<text class="a w" transform="translate(297.42,391.47) scale(1,1.1)">0.5</text>
<text class="a d" transform="translate(310.53,391.47) scale(1,1.1)">0.9</text>
<text class="a w" transform="translate(323.64,391.47) scale(1,1.1)">-0.1</text>
<text class="a w" transform="translate(336.75,391.47) scale(1,1.1)">-0.2</text>
<text class="a w" transform="translate(349.86,391.47) scale(1,1.1)">0.3</text>
<text class="a w" transform="translate(362.97,391.47) scale(1,1.1)">-0.3</text>
<text class="a w" transform="translate(376.08,391.47) scale(1,1.1)">-0.2</text>
<text class="a w" transform="translate(74.55,405.17) scale(1,1.1)">0.3</text>
<text class="a w" transform="translate(87.66,405.17) scale(1,1.1)">0.1</text>
<text class="a w" transform="translate(100.77,405.17) scale(1,1.1)">0.2</text>
<text class="a w" transform="translate(113.88,405.17) scale(1,1.1)">0.1</text>
<text class="a w" transform="translate(126.99,405.17) scale(1,1.1)">0.3</text>
<text class="a w" transform="translate(140.10,405.17) scale(1,1.1)">0.4</text>
<text class="a w" transform="translate(153.21,405.17) scale(1,1.1)">0.2</text>
<text class="a w" transform="translate(166.32,405.17) scale(1,1.1)">0.2</text>
<text class="a w" transform="translate(179.43,405.17) scale(1,1.1)">0.1</text>
<text class="a w" transform="translate(192.54,405.17) scale(1,1.1)">0.5</text>
<text class="a w" transform="translate(205.65,405.17) scale(1,1.1)">0.2</text>
<text class="a w" transform="translate(218.76,405.17) scale(1,1.1)">0.1</text>
<text class="a w" transform="translate(231.87,405.17) scale(1,1.1)">0.5</text>
<text class="a d" transform="translate(244.98,405.17) scale(1,1.1)">0.6</text>
<text class="a d" transform="translate(258.09,405.17) scale(1,1.1)">0.8</text>
<text class="a w" transform="translate(271.20,405.17) scale(1,1.1)">0.1</text>
<text class="a d" transform="translate(284.31,405.17) scale(1,1.1)">0.7</text>
<text class="a d" transform="translate(297.42,405.17) scale(1,1.1)">0.8</text>
<text class="a w" transform="translate(310.53,405.17) scale(1,1.1)">0.4</text>
<text class="a w" transform="translate(323.64,405.17) scale(1,1.1)">0.1</text>
<text class="a w" transform="translate(336.75,405.17) scale(1,1.1)">-0.0</text>
<text class="a d" transform="translate(349.86,405.17) scale(1,1.1)">0.9</text>
<text class="a w" transform="translate(362.97,405.17) scale(1,1.1)">-0.0</text>
<text class="a w" transform="translate(376.08,405.17) scale(1,1.1)">-0.1</text>
<text class="a w" transform="translate(389.19,405.17) scale(1,1.1)">0.4</text>
<text class="a w" transform="translate(74.55,418.87) scale(1,1.1)">0.1</text>
<text class="a w" transform="translate(87.66,418.87) scale(1,1.1)">-0.0</text>
<text class="a w" transform="translate(100.77,418.87) scale(1,1.1)">-0.0</text>
<text class="a w" transform="translate(113.88,418.87) scale(1,1.1)">-0.5</text>
<text class="a w" transform="translate(126.99,418.87) scale(1,1.1)">-0.5</text>
<text class="a w" transform="translate(140.10,418.87) scale(1,1.1)">-0.5</text>
<text class="a w" transform="translate(153.21,418.87) scale(1,1.1)">0.3</text>
<text class="a w" transform="translate(166.32,418.87) scale(1,1.1)">0.3</text>
<text class="a w" transform="translate(179.43,418.87) scale(1,1.1)">0.5</text>
<text class="a w" transform="translate(192.54,418.87) scale(1,1.1)">-0.4</text>
<text class="a w" transform="translate(205.65,418.87) scale(1,1.1)">0.3</text>
<text class="a d" transform="translate(218.76,418.87) scale(1,1.1)">0.6</text>
<text class="a w" transform="translate(231.87,418.87) scale(1,1.1)">-0.5</text>
<text class="a w" transform="translate(244.98,418.87) scale(1,1.1)">-0.4</text>
<text class="a w" transform="translate(258.09,418.87) scale(1,1.1)">-0.3</text>
<text class="a d" transform="translate(271.20,418.87) scale(1,1.1)">0.6</text>
<text class="a w" transform="translate(284.31,418.87) scale(1,1.1)">-0.4</text>
<text class="a w" transform="translate(297.42,418.87) scale(1,1.1)">-0.3</text>
<text class="a w" transform="translate(310.53,418.87) scale(1,1.1)">-0.0</text>
<text class="a d" transform="translate(323.64,418.87) scale(1,1.1)">0.7</text>
<text class="a d" transform="translate(336.75,418.87) scale(1,1.1)">0.7</text>
<text class="a w" transform="translate(349.86,418.87) scale(1,1.1)">0.1</text>
<text class="a d" transform="translate(362.97,418.87) scale(1,1.1)">0.7</text>
<text class="a w" transform="translate(376.08,418.87) scale(1,1.1)">0.5</text>
<text class="a w" transform="translate(389.19,418.87) scale(1,1.1)">-0.0</text>
<text class="a w" transform="translate(402.30,418.87) scale(1,1.1)">0.1</text>
<text class="a w" transform="translate(74.55,432.56) scale(1,1.1)">0.2</text>
<text class="a w" transform="translate(87.66,432.56) scale(1,1.1)">0.1</text>
<text class="a w" transform="translate(100.77,432.56) scale(1,1.1)">0.1</text>
<text class="a w" transform="translate(113.88,432.56) scale(1,1.1)">-0.1</text>
<text class="a w" transform="translate(126.99,432.56) scale(1,1.1)">0.0</text>
<text class="a w" transform="translate(140.10,432.56) scale(1,1.1)">0.1</text>
<text class="a w" transform="translate(153.21,432.56) scale(1,1.1)">0.1</text>
<text class="a w" transform="translate(166.32,432.56) scale(1,1.1)">0.1</text>
<text class="a w" transform="translate(179.43,432.56) scale(1,1.1)">0.1</text>
<text class="a w" transform="translate(192.54,432.56) scale(1,1.1)">0.2</text>
<text class="a w" transform="translate(205.65,432.56) scale(1,1.1)">0.1</text>
<text class="a w" transform="translate(218.76,432.56) scale(1,1.1)">0.3</text>
<text class="a w" transform="translate(231.87,432.56) scale(1,1.1)">0.2</text>
<text class="a w" transform="translate(244.98,432.56) scale(1,1.1)">0.3</text>
<text class="a w" transform="translate(258.09,432.56) scale(1,1.1)">0.5</text>
<text class="a w" transform="translate(271.20,432.56) scale(1,1.1)">0.2</text>
<text class="a w" transform="translate(284.31,432.56) scale(1,1.1)">0.4</text>
<text class="a d" transform="translate(297.42,432.56) scale(1,1.1)">0.6</text>
<text class="a w" transform="translate(310.53,432.56) scale(1,1.1)">0.2</text>
<text class="a w" transform="translate(323.64,432.56) scale(1,1.1)">0.3</text>
<text class="a w" transform="translate(336.75,432.56) scale(1,1.1)">0.2</text>
<text class="a d" transform="translate(349.86,432.56) scale(1,1.1)">0.9</text>
<text class="a w" transform="translate(362.97,432.56) scale(1,1.1)">0.3</text>
<text class="a w" transform="translate(376.08,432.56) scale(1,1.1)">0.2</text>
<text class="a w" transform="translate(389.19,432.56) scale(1,1.1)">0.2</text>
<text class="a d" transform="translate(402.30,432.56) scale(1,1.1)">0.8</text>
<text class="a w" transform="translate(415.41,432.56) scale(1,1.1)">0.3</text>
<text class="a w" transform="translate(74.55,446.26) scale(1,1.1)">0.2</text>
<text class="a w" transform="translate(87.66,446.26) scale(1,1.1)">0.1</text>
<text class="a w" transform="translate(100.77,446.26) scale(1,1.1)">-0.0</text>
<text class="a w" transform="translate(113.88,446.26) scale(1,1.1)">-0.3</text>
<text class="a w" transform="translate(126.99,446.26) scale(1,1.1)">-0.4</text>
<text class="a w" transform="translate(140.10,446.26) scale(1,1.1)">-0.4</text>
<text class="a w" transform="translate(153.21,446.26) scale(1,1.1)">0.2</text>
<text class="a w" transform="translate(166.32,446.26) scale(1,1.1)">0.2</text>
<text class="a w" transform="translate(179.43,446.26) scale(1,1.1)">0.4</text>
<text class="a w" transform="translate(192.54,446.26) scale(1,1.1)">-0.3</text>
<text class="a w" transform="translate(205.65,446.26) scale(1,1.1)">0.2</text>
<text class="a d" transform="translate(218.76,446.26) scale(1,1.1)">0.6</text>
<text class="a w" transform="translate(231.87,446.26) scale(1,1.1)">-0.3</text>
<text class="a w" transform="translate(244.98,446.26) scale(1,1.1)">-0.3</text>
<text class="a w" transform="translate(258.09,446.26) scale(1,1.1)">-0.2</text>
<text class="a w" transform="translate(271.20,446.26) scale(1,1.1)">0.5</text>
<text class="a w" transform="translate(284.31,446.26) scale(1,1.1)">-0.3</text>
<text class="a w" transform="translate(297.42,446.26) scale(1,1.1)">-0.2</text>
<text class="a w" transform="translate(310.53,446.26) scale(1,1.1)">0.1</text>
<text class="a d" transform="translate(323.64,446.26) scale(1,1.1)">0.6</text>
<text class="a d" transform="translate(336.75,446.26) scale(1,1.1)">0.7</text>
<text class="a w" transform="translate(349.86,446.26) scale(1,1.1)">0.2</text>
<text class="a d" transform="translate(362.97,446.26) scale(1,1.1)">0.6</text>
<text class="a d" transform="translate(376.08,446.26) scale(1,1.1)">0.6</text>
<text class="a w" transform="translate(389.19,446.26) scale(1,1.1)">0.0</text>
<text class="a w" transform="translate(402.30,446.26) scale(1,1.1)">0.1</text>
<text class="a d" transform="translate(415.41,446.26) scale(1,1.1)">0.9</text>
<text class="a w" transform="translate(428.52,446.26) scale(1,1.1)">0.4</text>
<text class="a d" transform="translate(74.55,459.96) scale(1,1.1)">0.9</text>
<text class="a w" transform="translate(87.66,459.96) scale(1,1.1)">0.3</text>
<text class="a w" transform="translate(100.77,459.96) scale(1,1.1)">0.2</text>
<text class="a w" transform="translate(113.88,459.96) scale(1,1.1)">0.2</text>
<text class="a w" transform="translate(126.99,459.96) scale(1,1.1)">0.4</text>
<text class="a w" transform="translate(140.10,459.96) scale(1,1.1)">0.4</text>
<text class="a w" transform="translate(153.21,459.96) scale(1,1.1)">0.3</text>
<text class="a w" transform="translate(166.32,459.96) scale(1,1.1)">0.2</text>
<text class="a w" transform="translate(179.43,459.96) scale(1,1.1)">0.1</text>
<text class="a w" transform="translate(192.54,459.96) scale(1,1.1)">0.4</text>
<text class="a w" transform="translate(205.65,459.96) scale(1,1.1)">0.3</text>
<text class="a w" transform="translate(218.76,459.96) scale(1,1.1)">0.1</text>
<text class="a w" transform="translate(231.87,459.96) scale(1,1.1)">0.4</text>
<text class="a w" transform="translate(244.98,459.96) scale(1,1.1)">0.4</text>
<text class="a w" transform="translate(258.09,459.96) scale(1,1.1)">0.4</text>
<text class="a w" transform="translate(271.20,459.96) scale(1,1.1)">-0.0</text>
<text class="a w" transform="translate(284.31,459.96) scale(1,1.1)">0.4</text>
<text class="a w" transform="translate(297.42,459.96) scale(1,1.1)">0.4</text>
<text class="a d" transform="translate(310.53,459.96) scale(1,1.1)">1.0</text>
<text class="a w" transform="translate(323.64,459.96) scale(1,1.1)">-0.1</text>
<text class="a w" transform="translate(336.75,459.96) scale(1,1.1)">-0.2</text>
<text class="a w" transform="translate(349.86,459.96) scale(1,1.1)">0.3</text>
<text class="a w" transform="translate(362.97,459.96) scale(1,1.1)">-0.2</text>
<text class="a w" transform="translate(376.08,459.96) scale(1,1.1)">-0.1</text>
<text class="a d" transform="translate(389.19,459.96) scale(1,1.1)">0.9</text>
<text class="a w" transform="translate(402.30,459.96) scale(1,1.1)">0.4</text>
<text class="a w" transform="translate(415.41,459.96) scale(1,1.1)">-0.0</text>
<text class="a w" transform="translate(428.52,459.96) scale(1,1.1)">0.2</text>
<text class="a w" transform="translate(441.63,459.96) scale(1,1.1)">0.1</text>
<text class="a w" transform="translate(74.55,473.65) scale(1,1.1)">0.5</text>
<text class="a w" transform="translate(87.66,473.65) scale(1,1.1)">0.4</text>
<text class="a w" transform="translate(100.77,473.65) scale(1,1.1)">0.2</text>
<text class="a w" transform="translate(113.88,473.65) scale(1,1.1)">0.4</text>
<text class="a w" transform="translate(126.99,473.65) scale(1,1.1)">0.5</text>
<text class="a w" transform="translate(140.10,473.65) scale(1,1.1)">0.5</text>
<text class="a w" transform="translate(153.21,473.65) scale(1,1.1)">0.2</text>
<text class="a w" transform="translate(166.32,473.65) scale(1,1.1)">0.1</text>
<text class="a w" transform="translate(179.43,473.65) scale(1,1.1)">0.1</text>
<text class="a w" transform="translate(192.54,473.65) scale(1,1.1)">0.4</text>
<text class="a w" transform="translate(205.65,473.65) scale(1,1.1)">0.2</text>
<text class="a w" transform="translate(218.76,473.65) scale(1,1.1)">-0.2</text>
<text class="a w" transform="translate(231.87,473.65) scale(1,1.1)">0.4</text>
<text class="a w" transform="translate(244.98,473.65) scale(1,1.1)">0.4</text>
<text class="a w" transform="translate(258.09,473.65) scale(1,1.1)">0.3</text>
<text class="a w" transform="translate(271.20,473.65) scale(1,1.1)">0.1</text>
<text class="a w" transform="translate(284.31,473.65) scale(1,1.1)">0.4</text>
<text class="a w" transform="translate(297.42,473.65) scale(1,1.1)">0.4</text>
<text class="a w" transform="translate(310.53,473.65) scale(1,1.1)">0.5</text>
<text class="a w" transform="translate(323.64,473.65) scale(1,1.1)">-0.0</text>
<text class="a w" transform="translate(336.75,473.65) scale(1,1.1)">-0.2</text>
<text class="a w" transform="translate(349.86,473.65) scale(1,1.1)">0.2</text>
<text class="a w" transform="translate(362.97,473.65) scale(1,1.1)">-0.2</text>
<text class="a w" transform="translate(376.08,473.65) scale(1,1.1)">-0.3</text>
<text class="a w" transform="translate(389.19,473.65) scale(1,1.1)">0.5</text>
<text class="a w" transform="translate(402.30,473.65) scale(1,1.1)">0.2</text>
<text class="a w" transform="translate(415.41,473.65) scale(1,1.1)">-0.2</text>
<text class="a w" transform="translate(428.52,473.65) scale(1,1.1)">0.0</text>
<text class="a w" transform="translate(441.63,473.65) scale(1,1.1)">-0.1</text>
<text class="a w" transform="translate(454.74,473.65) scale(1,1.1)">0.5</text>
<text class="yl" transform="translate(64.20,62.21) scale(1,1.1)">mfcc_0_SW</text>
<text class="yl" transform="translate(64.20,75.91) scale(1,1.1)">mfcc_diff_0_SW</text>
<text class="yl" transform="translate(64.20,89.61) scale(1,1.1)">mfcc_diff_1_SW</text>
<text class="yl" transform="translate(64.20,103.30) scale(1,1.1)">mfcc_2_SW</text>
<text class="yl" transform="translate(64.20,117.00) scale(1,1.1)">mfcc_6_SW</text>
<text class="yl" transform="translate(64.20,130.70) scale(1,1.1)">mfcc_8_SW</text>
<text class="yl" transform="translate(64.20,144.39) scale(1,1.1)">mfcc_diff_8_SW</text>
<text class="yl" transform="translate(64.20,158.09) scale(1,1.1)">mfcc_diff_9_SW</text>
<text class="yl" transform="translate(64.20,171.79) scale(1,1.1)">mfcc_diff_11_SW</text>
<text class="yl" transform="translate(64.20,185.49) scale(1,1.1)">mfcc_11_SW</text>
<text class="yl" transform="translate(64.20,199.18) scale(1,1.1)">mfcc_diff_10_SW</text>
<text class="yl" transform="translate(64.20,212.88) scale(1,1.1)">cent_std_SW</text>
<text class="yl" transform="translate(64.20,226.58) scale(1,1.1)">mfcc_10_SW</text>
<text class="yl" transform="translate(64.20,240.27) scale(1,1.1)">mfcc_12_SW</text>
<text class="yl" transform="translate(64.20,253.97) scale(1,1.1)">mfcc_15_SW</text>
<text class="yl" transform="translate(64.20,267.67) scale(1,1.1)">mfcc_diff_14_SW</text>
<text class="yl" transform="translate(64.20,281.36) scale(1,1.1)">mfcc_14_SW</text>
<text class="yl" transform="translate(64.20,295.06) scale(1,1.1)">mfcc_16_SW</text>
<text class="yl" transform="translate(64.20,308.76) scale(1,1.1)">melspec_diff_SW</text>
<text class="yl" transform="translate(64.20,322.45) scale(1,1.1)">mfcc_diff_16_SW</text>
<text class="yl" transform="translate(64.20,336.15) scale(1,1.1)">mfcc_diff_17_SW</text>
<text class="yl" transform="translate(64.20,349.85) scale(1,1.1)">mfcc_19_SW</text>
<text class="yl" transform="translate(64.20,363.54) scale(1,1.1)">mfcc_diff_18_SW</text>
<text class="yl" transform="translate(64.20,377.24) scale(1,1.1)">specroll_mean_SW</text>
<text class="yl" transform="translate(64.20,390.94) scale(1,1.1)">melspec_std_SW</text>
<text class="yl" transform="translate(64.20,404.63) scale(1,1.1)">mfcc_20_SW</text>
<text class="yl" transform="translate(64.20,418.33) scale(1,1.1)">mfcc_std_20_SW</text>
<text class="yl" transform="translate(64.20,432.03) scale(1,1.1)">mfcc_21_SW</text>
<text class="yl" transform="translate(64.20,445.72) scale(1,1.1)">mfcc_std_21_SW</text>
<text class="yl" transform="translate(64.20,459.42) scale(1,1.1)">tonnetz_diff_SW</text>
<text class="yl" transform="translate(64.20,473.12) scale(1,1.1)">class</text>
<text class="xl" transform="translate(77.11,482.60) rotate(-90) scale(1.04,1)">mfcc_0_SW</text>
<text class="xl" transform="translate(90.22,482.60) rotate(-90) scale(1.04,1)">mfcc_diff_0_SW</text>
<text class="xl" transform="translate(103.33,482.60) rotate(-90) scale(1.04,1)">mfcc_diff_1_SW</text>
<text class="xl" transform="translate(116.44,482.60) rotate(-90) scale(1.04,1)">mfcc_2_SW</text>
<text class="xl" transform="translate(129.55,482.60) rotate(-90) scale(1.04,1)">mfcc_6_SW</text>
<text class="xl" transform="translate(142.66,482.60) rotate(-90) scale(1.04,1)">mfcc_8_SW</text>
<text class="xl" transform="translate(155.77,482.60) rotate(-90) scale(1.04,1)">mfcc_diff_8_SW</text>
<text class="xl" transform="translate(168.88,482.60) rotate(-90) scale(1.04,1)">mfcc_diff_9_SW</text>
<text class="xl" transform="translate(181.99,482.60) rotate(-90) scale(1.04,1)">mfcc_diff_11_SW</text>
<text class="xl" transform="translate(195.10,482.60) rotate(-90) scale(1.04,1)">mfcc_11_SW</text>
<text class="xl" transform="translate(208.21,482.60) rotate(-90) scale(1.04,1)">mfcc_diff_10_SW</text>
<text class="xl" transform="translate(221.32,482.60) rotate(-90) scale(1.04,1)">cent_std_SW</text>
<text class="xl" transform="translate(234.43,482.60) rotate(-90) scale(1.04,1)">mfcc_10_SW</text>
<text class="xl" transform="translate(247.54,482.60) rotate(-90) scale(1.04,1)">mfcc_12_SW</text>
<text class="xl" transform="translate(260.65,482.60) rotate(-90) scale(1.04,1)">mfcc_15_SW</text>
<text class="xl" transform="translate(273.76,482.60) rotate(-90) scale(1.04,1)">mfcc_diff_14_SW</text>
<text class="xl" transform="translate(286.87,482.60) rotate(-90) scale(1.04,1)">mfcc_14_SW</text>
<text class="xl" transform="translate(299.98,482.60) rotate(-90) scale(1.04,1)">mfcc_16_SW</text>
<text class="xl" transform="translate(313.09,482.60) rotate(-90) scale(1.04,1)">melspec_diff_SW</text>
<text class="xl" transform="translate(326.20,482.60) rotate(-90) scale(1.04,1)">mfcc_diff_16_SW</text>
<text class="xl" transform="translate(339.31,482.60) rotate(-90) scale(1.04,1)">mfcc_diff_17_SW</text>
<text class="xl" transform="translate(352.42,482.60) rotate(-90) scale(1.04,1)">mfcc_19_SW</text>
<text class="xl" transform="translate(365.53,482.60) rotate(-90) scale(1.04,1)">mfcc_diff_18_SW</text>
<text class="xl" transform="translate(378.64,482.60) rotate(-90) scale(1.04,1)">specroll_mean_SW</text>
<text class="xl" transform="translate(391.75,482.60) rotate(-90) scale(1.04,1)">melspec_std_SW</text>
<text class="xl" transform="translate(404.86,482.60) rotate(-90) scale(1.04,1)">mfcc_20_SW</text>
<text class="xl" transform="translate(417.97,482.60) rotate(-90) scale(1.04,1)">mfcc_std_20_SW</text>
<text class="xl" transform="translate(431.08,482.60) rotate(-90) scale(1.04,1)">mfcc_21_SW</text>
<text class="xl" transform="translate(444.19,482.60) rotate(-90) scale(1.04,1)">mfcc_std_21_SW</text>
<text class="xl" transform="translate(457.30,482.60) rotate(-90) scale(1.04,1)">tonnetz_diff_SW</text>
<text class="xl" transform="translate(470.40,482.60) rotate(-90) scale(1.04,1)">class</text>
<defs><linearGradient id="cb" x1="0" y1="1" x2="0" y2="0">
<stop offset="0.0000" stop-color="#4e0055"/>
<stop offset="0.0156" stop-color="#50015b"/>
<stop offset="0.0312" stop-color="#510562"/>
<stop offset="0.0469" stop-color="#520b67"/>
<stop offset="0.0625" stop-color="#52116d"/>
<stop offset="0.0781" stop-color="#521772"/>
<stop offset="0.0938" stop-color="#511d76"/>
<stop offset="0.1094" stop-color="#50237b"/>
<stop offset="0.1250" stop-color="#4e297e"/>
<stop offset="0.1406" stop-color="#4b2e82"/>
<stop offset="0.1562" stop-color="#483385"/>
<stop offset="0.1719" stop-color="#453987"/>
<stop offset="0.1875" stop-color="#413e89"/>
<stop offset="0.2031" stop-color="#3c438b"/>
<stop offset="0.2188" stop-color="#37488c"/>
<stop offset="0.2344" stop-color="#304d8d"/>
<stop offset="0.2500" stop-color="#29518e"/>
<stop offset="0.2656" stop-color="#20568f"/>
<stop offset="0.2812" stop-color="#125a90"/>
<stop offset="0.2969" stop-color="#005f90"/>
<stop offset="0.3125" stop-color="#006390"/>
<stop offset="0.3281" stop-color="#006790"/>
<stop offset="0.3438" stop-color="#006b91"/>
<stop offset="0.3594" stop-color="#006f91"/>
<stop offset="0.3750" stop-color="#007391"/>
<stop offset="0.3906" stop-color="#007791"/>
<stop offset="0.4062" stop-color="#007b90"/>
<stop offset="0.4219" stop-color="#007f90"/>
<stop offset="0.4375" stop-color="#008390"/>
<stop offset="0.4531" stop-color="#008690"/>
<stop offset="0.4688" stop-color="#008a8f"/>
<stop offset="0.4844" stop-color="#008e8e"/>
<stop offset="0.5000" stop-color="#00928d"/>
<stop offset="0.5156" stop-color="#00968c"/>
<stop offset="0.5312" stop-color="#009a8b"/>
<stop offset="0.5469" stop-color="#009d8a"/>
<stop offset="0.5625" stop-color="#00a188"/>
<stop offset="0.5781" stop-color="#00a586"/>
<stop offset="0.5938" stop-color="#00a984"/>
<stop offset="0.6094" stop-color="#00ac81"/>
<stop offset="0.6250" stop-color="#00b07e"/>
<stop offset="0.6406" stop-color="#00b37b"/>
<stop offset="0.6562" stop-color="#00b778"/>
<stop offset="0.6719" stop-color="#00ba74"/>
<stop offset="0.6875" stop-color="#00be6f"/>
<stop offset="0.7031" stop-color="#00c16b"/>
<stop offset="0.7188" stop-color="#00c465"/>
<stop offset="0.7344" stop-color="#00c760"/>
<stop offset="0.7500" stop-color="#00ca59"/>
<stop offset="0.7656" stop-color="#00cd53"/>
<stop offset="0.7812" stop-color="#00d04b"/>
<stop offset="0.7969" stop-color="#23d343"/>
<stop offset="0.8125" stop-color="#46d53a"/>
<stop offset="0.8281" stop-color="#5ed72f"/>
<stop offset="0.8438" stop-color="#73d923"/>
<stop offset="0.8594" stop-color="#85db11"/>
<stop offset="0.8750" stop-color="#97dd00"/>
<stop offset="0.8906" stop-color="#a7df00"/>
<stop offset="0.9062" stop-color="#b7e000"/>
<stop offset="0.9219" stop-color="#c6e200"/>
<stop offset="0.9375" stop-color="#d4e300"/>
<stop offset="0.9531" stop-color="#e2e400"/>
<stop offset="0.9688" stop-color="#efe600"/>
<stop offset="0.9844" stop-color="#fce700"/>
<stop offset="1.0000" stop-color="#ffe800"/>
</linearGradient></defs>
<rect x="500.00" y="6.80" width="24.70" height="516.80" fill="url(#cb)"/>
<line x1="524.70" y1="6.80" x2="527.10" y2="6.80" stroke="#262626" stroke-width="0.6"/>
<text class="cl" transform="translate(528.20,9.72) scale(1,1.1)">1.0</text>
<line x1="524.70" y1="72.97" x2="527.10" y2="72.97" stroke="#262626" stroke-width="0.6"/>
<text class="cl" transform="translate(528.20,75.89) scale(1,1.1)">0.8</text>
<line x1="524.70" y1="139.14" x2="527.10" y2="139.14" stroke="#262626" stroke-width="0.6"/>
<text class="cl" transform="translate(528.20,142.06) scale(1,1.1)">0.6</text>
<line x1="524.70" y1="205.31" x2="527.10" y2="205.31" stroke="#262626" stroke-width="0.6"/>
<text class="cl" transform="translate(528.20,208.23) scale(1,1.1)">0.4</text>
<line x1="524.70" y1="271.49" x2="527.10" y2="271.49" stroke="#262626" stroke-width="0.6"/>
<text class="cl" transform="translate(528.20,274.40) scale(1,1.1)">0.2</text>
<line x1="524.70" y1="337.66" x2="527.10" y2="337.66" stroke="#262626" stroke-width="0.6"/>
<text class="cl" transform="translate(528.20,340.57) scale(1,1.1)">0.0</text>
<line x1="524.70" y1="403.83" x2="527.10" y2="403.83" stroke="#262626" stroke-width="0.6"/>
<text class="cl" transform="translate(528.20,406.75) scale(1,1.1)">−0.2</text>
<line x1="524.70" y1="470.00" x2="527.10" y2="470.00" stroke="#262626" stroke-width="0.6"/>
<text class="cl" transform="translate(528.20,472.92) scale(1,1.1)">−0.4</text>
</svg></body></html>
